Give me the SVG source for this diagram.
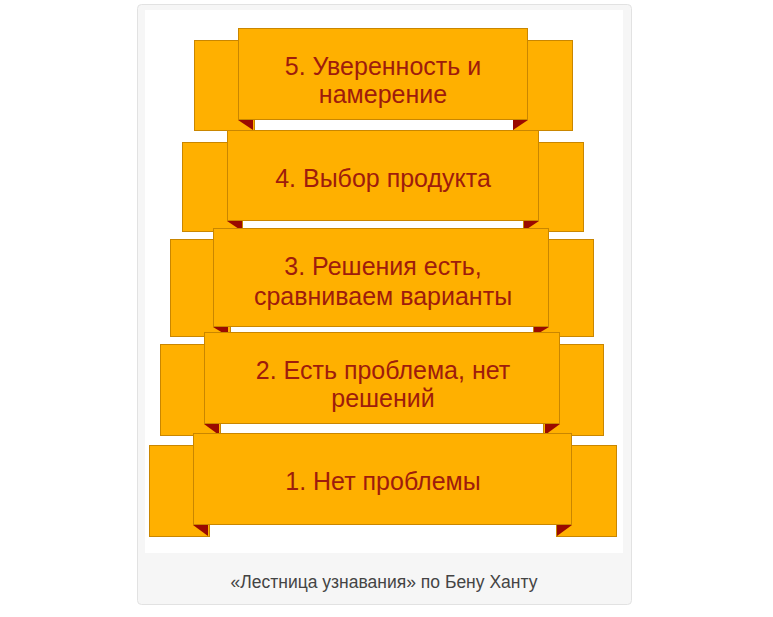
<svg xmlns="http://www.w3.org/2000/svg" width="773" height="617" viewBox="0 0 773 617">
<style>
.tab{fill:#ffb000;stroke:#c98600;stroke-width:1}
.main{fill:#ffb000;stroke:#c98600;stroke-width:1}
.fold{fill:#9a0a00}
.lbl{font-family:"Liberation Sans",Arial,sans-serif;font-size:25px;fill:#9e1c0c;text-anchor:middle}
.cap{font-family:"Liberation Sans",Arial,sans-serif;font-size:17.5px;fill:#444;text-anchor:middle}
</style>
<rect width="773" height="617" fill="#ffffff"/>
<g id="card">
<rect x="137.5" y="4.5" width="494" height="600" rx="4" fill="#f6f6f6" stroke="#e2e2e2"/>
<rect x="145" y="10" width="478" height="543" fill="#ffffff"/>
<text class="cap" x="384" y="588">«Лестница узнавания» по Бену Ханту</text>
</g>
<g id="connectors"></g>
<g id="step5">
<rect class="tab" x="194.5" y="40.5" width="60" height="90"/>
<rect class="tab" x="513.5" y="40.5" width="59" height="90"/>
<rect class="main" x="238.5" y="28.5" width="289" height="91"/>
<polygon class="fold" points="238,120 253,120 253,130"/>
<polygon class="fold" points="528,120 513,120 513,130"/>
<text class="lbl" x="383" y="75">5. Уверенность и</text>
<text class="lbl" x="383" y="103">намерение</text>
</g>
<g id="step4">
<rect class="tab" x="182.5" y="142.5" width="60" height="89"/>
<rect class="tab" x="523.5" y="142.5" width="60" height="89"/>
<rect class="main" x="227.5" y="130.5" width="311" height="90"/>
<polygon class="fold" points="227,221 242,221 242,231"/>
<polygon class="fold" points="539,221 524,221 524,231"/>
<text class="lbl" x="383" y="187">4. Выбор продукта</text>
</g>
<g id="step3">
<rect class="tab" x="170.5" y="239.5" width="60" height="97"/>
<rect class="tab" x="533.5" y="239.5" width="60" height="97"/>
<rect class="main" x="213.5" y="228.5" width="335" height="98"/>
<polygon class="fold" points="213,327 228,327 228,336"/>
<polygon class="fold" points="549,327 534,327 534,336"/>
<text class="lbl" x="383" y="275">3. Решения есть,</text>
<text class="lbl" x="383" y="305">сравниваем варианты</text>
</g>
<g id="step2">
<rect class="tab" x="160.5" y="344.5" width="60" height="91"/>
<rect class="tab" x="543.5" y="344.5" width="60" height="91"/>
<rect class="main" x="204.5" y="332.5" width="355" height="91"/>
<polygon class="fold" points="204,424 219,424 219,435"/>
<polygon class="fold" points="560,424 545,424 545,435"/>
<text class="lbl" x="383" y="379">2. Есть проблема, нет</text>
<text class="lbl" x="383" y="407">решений</text>
</g>
<g id="step1">
<rect class="tab" x="149.5" y="445.5" width="60" height="91"/>
<rect class="tab" x="556.5" y="445.5" width="60" height="91"/>
<rect class="main" x="193.5" y="433.5" width="378" height="91"/>
<polygon class="fold" points="193,525 208,525 208,536"/>
<polygon class="fold" points="572,525 557,525 557,536"/>
<text class="lbl" x="383" y="490">1. Нет проблемы</text>
</g>
</svg>
